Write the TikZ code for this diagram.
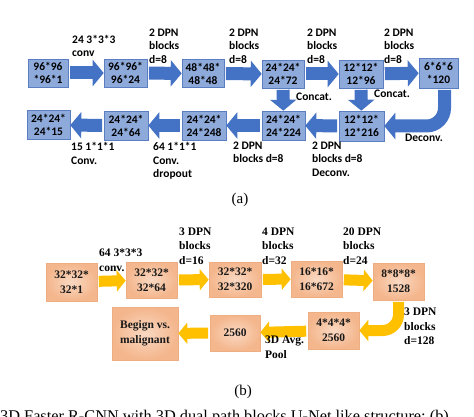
\documentclass[tikz,border=0pt]{standalone}
\usepackage{fontspec}
\setmainfont{Liberation Serif}
\newfontfamily\carlito{Carlito}
\usetikzlibrary{arrows.meta}
\definecolor{boxblue}{HTML}{8EAADB}
\definecolor{edgeblue}{HTML}{5B7EC2}
\definecolor{arrblue}{HTML}{4472C4}
\definecolor{peachin}{HTML}{F9D8C2}
\definecolor{peachout}{HTML}{F4B68C}
\definecolor{edgepeach}{HTML}{EFAE82}
\definecolor{arryellow}{HTML}{FFC000}
\begin{document}
\begin{tikzpicture}[x=1pt,y=-1pt,
  abox/.style={draw=edgeblue, fill=boxblue, line width=0.6pt, inner sep=0pt, align=center,
    font=\carlito\bfseries\fontsize{11.5}{13}\selectfont, minimum height=28pt},
  bbox/.style={draw=edgepeach, inner color=peachin, outer color=peachout, line width=0.6pt, inner sep=0pt, align=center,
    font=\bfseries\fontsize{11.5}{15}\selectfont, text=black!90, minimum height=36pt},
  alab/.style={anchor=north west, inner sep=0pt, align=left,
    font=\carlito\bfseries\fontsize{11.5}{13.5}\selectfont},
  blab/.style={anchor=north west, inner sep=0pt, align=left,
    font=\bfseries\fontsize{11.5}{14.5}\selectfont},
  barrow/.style={draw=arrblue, line width=13pt, -{Triangle[width=26pt,length=11pt]}, shorten <=1.5pt},
  yarrow/.style={draw=arryellow, line width=11pt, -{Triangle[width=21pt,length=9pt]}, shorten <=1.5pt},
  ]
\useasboundingbox (0,0) rectangle (474,417);
\clip (0,0) rectangle (474,417);
% ---------- (a) ----------
\node[abox, minimum width=40pt] (a1) at (48,73) {96*96\\*96*1};
\node[abox, minimum width=43pt] (a2) at (125.5,73) {96*96*\\96*24};
\node[abox, minimum width=42pt] (a3) at (203,73.5) {48*48*\\48*48};
\node[abox, minimum width=42pt] (a4) at (283,74) {24*24*\\24*72};
\node[abox, minimum width=44pt] (a5) at (361,74) {12*12*\\12*96};
\node[abox, minimum width=39pt, minimum height=30pt] (a6) at (438.5,73) {6*6*6\\*120};
\node[abox, minimum width=43pt, minimum height=29pt] (a7) at (283.5,125.5) {24*24*\\24*224};
\node[abox, minimum width=45pt, minimum height=30pt] (a8) at (361.5,126) {12*12*\\12*216};
\node[abox, minimum width=44pt, minimum height=29pt] (a9) at (204,125.5) {24*24*\\24*248};
\node[abox, minimum width=44pt, minimum height=29pt] (a10) at (126,125.5) {24*24*\\24*64};
\node[abox, minimum width=43pt, minimum height=29pt] (a11) at (48.5,125) {24*24*\\24*15};

\draw[barrow] (a1) -- (a2);
\draw[barrow] (a2) -- (a3);
\draw[barrow] (a3) -- (a4);
\draw[barrow] (a4) -- (a5);
\draw[barrow] (a5) -- (a6);
\draw[barrow] (a4) -- (a7);
\draw[barrow] (a5) -- (a8);
\draw[barrow, rounded corners=18pt] ([xshift=6pt]a6.south) |- (a8.east);
\draw[barrow] (a8) -- (a7);
\draw[barrow] (a7) -- (a9);
\draw[barrow] (a9) -- (a10);
\draw[barrow] (a10) -- (a11);

\node[alab] (l1) at (72,35) {24 3*3*3\\conv};
\node[alab] (l2) at (149,28.5) {2 DPN\\blocks\\d=8};
\node[alab] (l3) at (229,28.5) {2 DPN\\blocks\\d=8};
\node[alab] (l4) at (307,28.5) {2 DPN\\blocks\\d=8};
\node[alab] (l5) at (384,28.5) {2 DPN\\blocks\\d=8};
\node[alab, anchor=west] (c1) at (296,97) {Concat.};
\node[alab, anchor=west] (c2) at (374,94) {Concat.};
\node[alab] (l6) at (71,142.5) {15 1*1*1\\Conv.};
\node[alab] (l7) at (153,142.5) {64 1*1*1\\Conv.\\dropout};
\node[alab] (l8) at (233,141.5) {2 DPN\\blocks d=8};
\node[alab] (l9) at (312,141.5) {2 DPN\\blocks d=8\\Deconv.};
\node[alab, anchor=west] (dc) at (405,138) {Deconv.};
\node[font=\fontsize{15}{17}\selectfont, inner sep=0pt] (capa) at (240,200) {(a)};

% ---------- (b) ----------
\node[bbox, minimum width=51pt, minimum height=38pt] (b1) at (71.5,282) {32*32*\\32*1};
\node[bbox, minimum width=51pt] (b2) at (151.5,280) {32*32*\\32*64};
\node[bbox, minimum width=52pt, minimum height=35pt] (b3) at (235,279.5) {32*32*\\32*320};
\node[bbox, minimum width=51pt] (b4) at (316.5,279) {16*16*\\16*672};
\node[bbox, minimum width=51pt, minimum height=37pt] (b5) at (398.5,281.5) {8*8*8*\\1528};
\node[bbox, minimum width=51pt, minimum height=37pt] (b6) at (333.5,330.5) {4*4*4*\\2560};
\node[bbox, minimum width=50pt] (b7) at (235,333) {2560};
\node[bbox, minimum width=66pt, minimum height=53pt] (b8) at (145,333.5) {Begign vs.\\malignant};

\draw[yarrow] (b1) -- (b2);
\draw[yarrow] (b2) -- (b3);
\draw[yarrow] (b3) -- (b4);
\draw[yarrow] (b4) -- (b5);
\draw[yarrow, rounded corners=16pt] (b5.south) |- (b6.east);
\draw[yarrow] (b6) -- (b7);
\draw[yarrow] (b7) -- (b8);

\node[blab] (m1) at (99,249) {64 3*3*3\\conv.};
\node[blab] (m2) at (179,227.5) {3 DPN\\blocks\\d=16};
\node[blab] (m3) at (262,227.5) {4 DPN\\blocks\\d=32};
\node[blab] (m4) at (343,227.5) {20 DPN\\blocks\\d=24};
\node[blab] (m5) at (404,308) {3 DPN\\blocks\\d=128};
\node[blab] (m6) at (265,336) {3D Avg.\\Pool};
\node[font=\fontsize{15}{17}\selectfont, inner sep=0pt] (capb) at (243,392) {(b)};

\node[anchor=north west, inner sep=0pt, font=\fontsize{16.3}{19}\selectfont] (cap) at (0,410)
  {3D Faster R-CNN with 3D dual path blocks U-Net like structure; (b)};
\end{tikzpicture}
\end{document}
